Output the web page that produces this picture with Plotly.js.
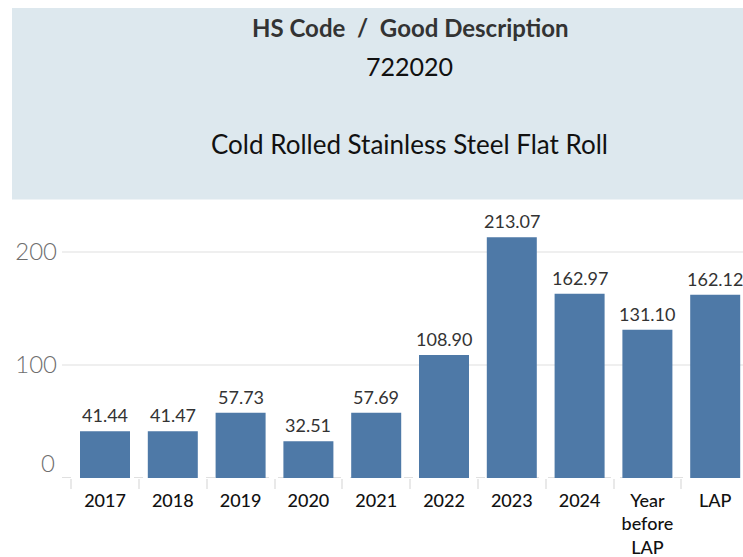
<!DOCTYPE html>
<html>
<head>
<meta charset="utf-8">
<script src="https://cdn.plot.ly/plotly-3.0.1.min.js"></script>
<style>html,body{margin:0;padding:0;background:#fff;}#chart{width:743px;height:557px;}</style>
</head>
<body>
<div id="chart"></div>
<script>
const categories = ["2017","2018","2019","2020","2021","2022","2023","2024","Year<br>before<br>LAP","LAP"];
const values = [41.44, 41.47, 57.73, 32.51, 57.69, 108.90, 213.07, 162.97, 131.10, 162.12];
const yTickVals = [0, 100, 200];
const yTickText = ["", "100", "200"];
const headerLines = ["HS Code  /  Good Description", "722020", "Cold Rolled Stainless Steel Flat Roll"];

// plot area in pixels: x 62..743, y 208..478
const W = 743, H = 557;
const PL = 62, PR = 743, PT = 208, PB = 478;
const pw = PR - PL, ph = PB - PT;
const px = p => (p - PL) / pw;
const py = p => (PB - p) / ph;

const annotations = [];
values.forEach((v, i) => {
  annotations.push({
    x: i, y: v, xref: 'x', yref: 'y',
    text: v.toFixed(2), showarrow: false,
    yanchor: 'bottom', yshift: 3,
    font: {family: 'Lato', size: 18, color: '#333333'}
  });
});
// bottom tick label "0" is drawn inside the pane
annotations.push({
  x: px(57), y: 0, xref: 'paper', yref: 'y', xanchor: 'right', yanchor: 'middle',
  yshift: 16, text: String(yTickVals[0]), showarrow: false,
  font: {family: 'Lato', size: 24, color: '#6e6e6e', weight: 300}
});
const headerY = [27.7, 65.5, 144];
const headerFonts = [
  {family: 'Lato', size: 24, color: '#333333', weight: 700},
  {family: 'Lato', size: 25, color: '#111111'},
  {family: 'Lato', size: 26, color: '#111111'}
];
headerLines.forEach((t, i) => {
  annotations.push({
    x: px(409.5), y: py(headerY[i]), xref: 'paper', yref: 'paper',
    xanchor: 'center', yanchor: 'middle', text: t, showarrow: false,
    font: headerFonts[i]
  });
});

const layout = {
  width: W, height: H,
  margin: {l: PL, r: W - PR, t: PT, b: H - PB, pad: 0},
  paper_bgcolor: '#ffffff', plot_bgcolor: '#ffffff',
  showlegend: false,
  bargap: 1 - 50 / 67.8,
  xaxis: {
    type: 'category',
    range: [-43 / 67.8, (681 - 43) / 67.8],
    showgrid: false, zeroline: false, showline: false,
    ticks: 'outside', tickson: 'boundaries', ticklen: 10, tickwidth: 2, tickcolor: '#e9e9e9',
    ticklabelstandoff: 10,
    tickfont: {family: 'Lato', size: 18, color: '#111111', weight: 500},
    fixedrange: true
  },
  yaxis: {
    range: [0, ph / 1.13],
    tickvals: yTickVals, ticktext: yTickText,
    showgrid: true, gridcolor: '#efefef', gridwidth: 2,
    zeroline: false, showline: false, ticks: '',
    ticklabelstandoff: 4,
    tickfont: {family: 'Lato', size: 24, color: '#6e6e6e', weight: 300},
    fixedrange: true
  },
  shapes: [
    {type: 'rect', xref: 'paper', yref: 'paper', x0: px(12), x1: px(760), y0: py(199.5), y1: py(8),
     fillcolor: '#dde8ee', line: {width: 0}, layer: 'below'},
    {type: 'line', xref: 'paper', yref: 'y', x0: 0, x1: 1, y0: 0, y1: 0,
     line: {color: '#d6d6d6', width: 1.5, dash: 'dash'}, layer: 'below'}
  ],
  annotations: annotations
};

const trace = {
  type: 'bar', x: categories, y: values,
  marker: {color: '#4e79a7', line: {width: 0}},
  hoverinfo: 'none', cliponaxis: false
};

Plotly.newPlot('chart', [trace], layout, {displayModeBar: false, staticPlot: true});
</script>
</body>
</html>
